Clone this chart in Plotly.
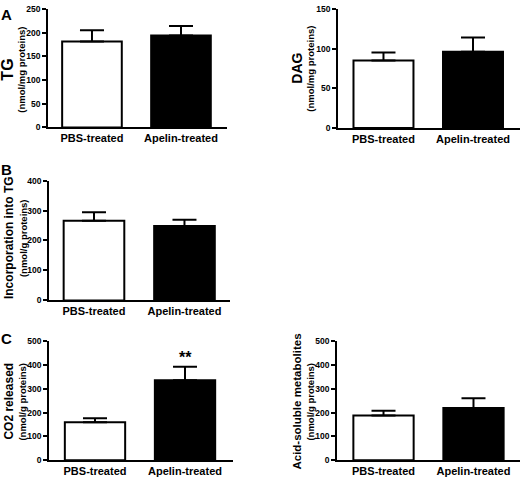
import plotly.graph_objects as go

# groups
groups = ['PBS-treated', 'Apelin-treated']
bar_colors = ['white', 'black']

# panel A
tg_vals = [181, 194]
tg_err = [24, 20]
dag_vals = [85, 96]
dag_err = [10, 18]

# panel B
incorp_vals = [266, 248]
incorp_err = [28, 21]

# panel C
co2_vals = [160, 336]
co2_err = [17, 57]
asm_vals = [188, 219]
asm_err = [20, 41]

W, H = 520, 480
FONT = 'Liberation Sans, Arial, sans-serif'


def px_x(v):
    return v / W


def px_y(v):
    return 1 - v / H


# (values, errors, x-axis px span, y-axis px span, y max, y step, x range)
panels = [
    (tg_vals, tg_err, (48, 227), (4, 125), 250, 50, [-0.494, 1.517]),
    (dag_vals, dag_err, (338, 520), (4, 125.7), 150, 50, [-0.508, 1.525]),
    (incorp_vals, incorp_err, (49, 230), (179.3, 301.7), 400, 100, [-0.497, 1.503]),
    (co2_vals, co2_err, (49, 233), (343.3, 465), 500, 100, [-0.511, 1.533]),
    (asm_vals, asm_err, (337, 520), (343.3, 465), 500, 100, [-0.517, 1.517]),
]

fig = go.Figure()
layout = {}

for i, (vals, errs, xs, ys, ymax, step, xr) in enumerate(panels):
    n = '' if i == 0 else str(i + 1)
    fig.add_trace(go.Bar(
        x=groups, y=vals, width=0.67,
        xaxis='x' + n, yaxis='y' + n,
        marker=dict(color=bar_colors, line=dict(color='black', width=2)),
        error_y=dict(type='data', symmetric=False, array=errs,
                     arrayminus=[0] * len(errs),
                     color='black', thickness=2, width=12),
        showlegend=False))
    layout['xaxis' + n] = dict(
        domain=[px_x(xs[0]), px_x(xs[1])], anchor='y' + n,
        range=xr, showline=True, linecolor='black', linewidth=1.5,
        ticks='', showgrid=False, zeroline=False,
        tickfont=dict(family=FONT, size=11, color='black', weight='bold'))
    layout['yaxis' + n] = dict(
        domain=[px_y(ys[1]), px_y(ys[0])], anchor='x' + n,
        range=[0, ymax], dtick=step, tick0=0,
        showline=True, linecolor='black', linewidth=1.5,
        ticks='outside', ticklen=4, tickwidth=1.5, tickcolor='black',
        showgrid=False, zeroline=False,
        tickfont=dict(family=FONT, size=8.5, color='black', weight='bold'))

fig.update_layout(**layout)

# axis titles: (main, sub, x px main, x px sub, y px center, main size)
titles = [
    ('TG', '(nmol/mg proteins)', 8, 22, 66, 16),
    ('DAG', '(nmol/mg proteins)', 297, 311, 65, 14),
    ('Incorporation into TG', '(nmol/g proteins)', 9, 23, 238, 12),
    ('CO2 released', '(nmol/g proteins)', 9, 23, 405, 12),
    ('Acid-soluble metabolites', '(nmol/g proteins)', 297, 311, 405, 11.5),
]
for main, sub, xm, xs_, yc, sz in titles:
    fig.add_annotation(xref='paper', yref='paper', x=px_x(xm), y=px_y(yc),
                       xanchor='center', yanchor='middle',
                       text='<b>' + main + '</b>', textangle=-90, showarrow=False,
                       font=dict(family=FONT, size=sz, color='black'))
    fig.add_annotation(xref='paper', yref='paper', x=px_x(xs_), y=px_y(yc),
                       xanchor='center', yanchor='middle',
                       text='<b>' + sub + '</b>', textangle=-90, showarrow=False,
                       font=dict(family=FONT, size=9.5, color='black'))

# panel letters
for letter, yc in [('A', 10), ('B', 168), ('C', 341)]:
    fig.add_annotation(xref='paper', yref='paper', x=px_x(6), y=px_y(yc),
                       xanchor='center', yanchor='middle',
                       text='<b>' + letter + '</b>', showarrow=False,
                       font=dict(family=FONT, size=15, color='black'))

# significance mark
fig.add_annotation(xref='x4', yref='y4', x=1, y=432, text='<b>**</b>',
                   xanchor='center', yanchor='middle',
                   showarrow=False, font=dict(family=FONT, size=16, color='black'))

fig.update_layout(width=W, height=H, margin=dict(l=0, r=0, t=0, b=0),
                  plot_bgcolor='white', paper_bgcolor='white',
                  font=dict(family=FONT, color='black'))

fig.write_html('out.html', config={'displayModeBar': False},
               post_script="document.body.style.margin='0';")
